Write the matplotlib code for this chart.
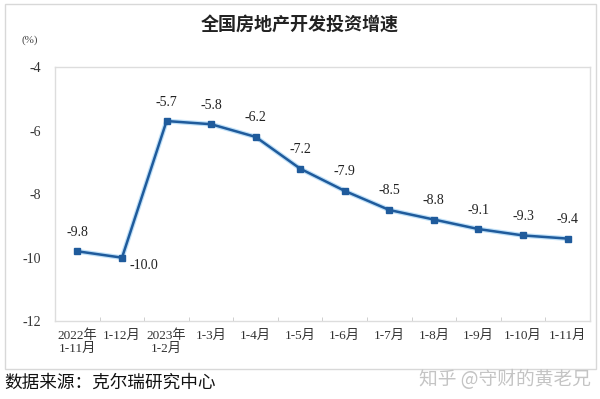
import matplotlib
matplotlib.use("Agg")
import matplotlib.pyplot as plt
from matplotlib.patches import Rectangle

# data
months = ["2022年\n1-11月", "1-12月", "2023年\n1-2月", "1-3月", "1-4月", "1-5月",
          "1-6月", "1-7月", "1-8月", "1-9月", "1-10月", "1-11月"]
growth = [-9.8, -10.0, -5.7, -5.8, -6.2, -7.2, -7.9, -8.5, -8.8, -9.1, -9.3, -9.4]
yticks = [-4, -6, -8, -10, -12]

serif = ["Liberation Serif", "Noto Sans CJK SC"]
cjk = ["Noto Sans CJK SC", "DejaVu Sans"]

fig = plt.figure(figsize=(6, 3.99), dpi=100)
fig.patches.append(Rectangle((0.008, 0.075), 0.985, 0.915, transform=fig.transFigure,
                             fill=False, ec="#d8d8d8", lw=1))

ax = fig.add_axes([0.092, 0.195, 0.891, 0.637])
x = list(range(len(months)))
ax.plot(x, growth, color="#bfe0f8", lw=3.5, solid_capstyle="round", zorder=2)
ax.plot(x, growth, color="#1f5b9c", lw=1.8, marker="s", ms=4, zorder=3)

for i, v in enumerate(growth):
    if i == 1:
        ax.annotate(f"{v:.1f}", (i, v), xytext=(16, -6), textcoords="offset points",
                    ha="center", va="center", fontsize=10, family=serif, color="#222222")
    else:
        ax.annotate(f"{v:.1f}", (i, v), xytext=(0, 9), textcoords="offset points",
                    ha="center", va="bottom", fontsize=10, family=serif, color="#222222")

ax.set_xlim(-0.5, len(months) - 0.5)
ax.set_ylim(-12, -4)
ax.set_yticks(yticks)
ax.set_yticklabels([str(t) for t in yticks], family=serif, fontsize=10, color="#333333")
ax.set_xticks(x)
ax.set_xticklabels(months, family=serif, fontsize=9.5, color="#333333", linespacing=1.1)
ax.set_xticks([i + 0.5 for i in x[:-1]], minor=True)
ax.tick_params(axis="x", which="major", length=0, pad=6)
ax.tick_params(axis="x", which="minor", length=3, direction="in", color="#c8c8c8")
ax.tick_params(axis="y", length=0, pad=10)
for s in ax.spines.values():
    s.set_color("#dddddd")
    s.set_linewidth(1)

fig.text(0.05, 0.893, "(%)", fontsize=8, family=serif, color="#444444", ha="center")
fig.text(0.5, 0.94, "全国房地产开发投资增速", fontsize=13, family=cjk, fontweight="bold",
         ha="center", va="center", color="#222222")
fig.text(0.008, 0.04, "数据来源：克尔瑞研究中心", fontsize=12.7, family=cjk,
         ha="left", va="center", color="#111111")
fig.text(0.985, 0.05, "知乎 @守财的黄老兄", fontsize=13.5, family=cjk,
         ha="right", va="center", color="#c4c4c4")

fig.savefig("out.png", dpi=100)
